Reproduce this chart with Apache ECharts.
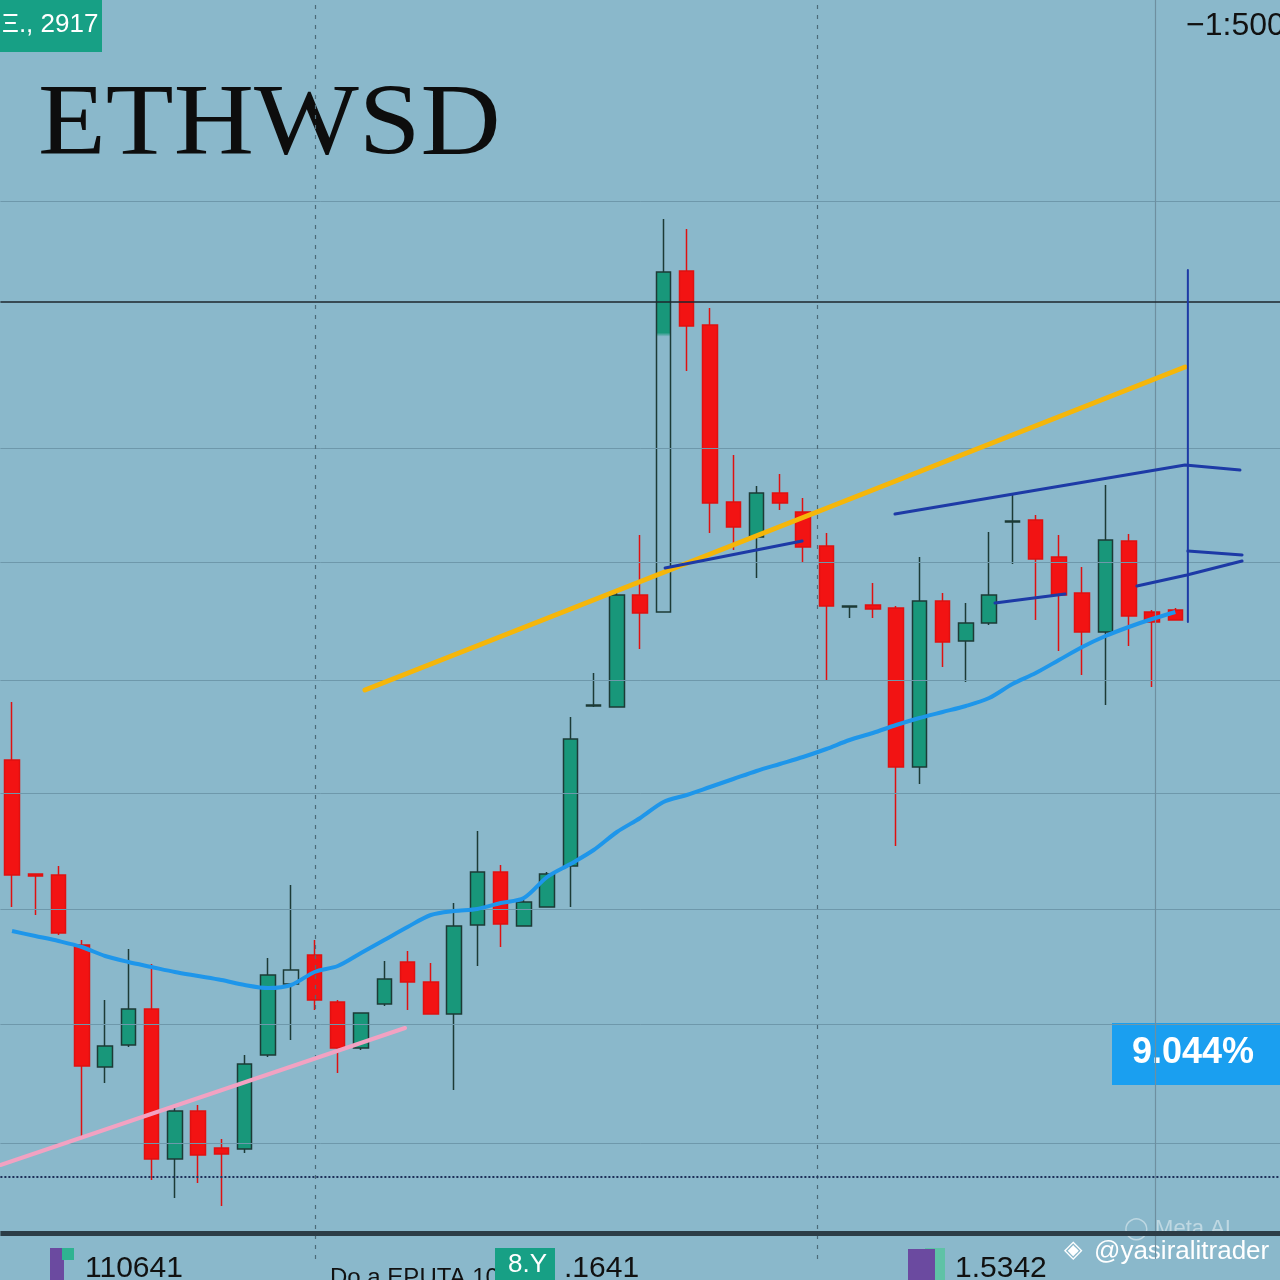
<!DOCTYPE html>
<html><head><meta charset="utf-8">
<script src="https://cdn.jsdelivr.net/npm/echarts@6/dist/echarts.min.js"></script>
<style>html,body{margin:0;padding:0;background:#8ab8cb}#c{width:1280px;height:1280px}</style>
</head><body><div id="c"></div><script>
// ---- data (price units) ----
const categories = Array.from({length: 55}, (_, i) => 'D' + (i + 1));
// [open, close, low, high]
const ohlc = [
  [499,384,352,557],[385,383,344,385],[384,326,324,393],[314,193,123,319],[192,213,176,259],
  [214,250,212,310],[250,100,79,295],[100,148,61,151],[148,104,76,154],[111,105,53,120],
  [110,195,106,204],[204,284,202,301],[275,289,219,374],[304,259,249,319],[257,211,186,259],
  [211,246,209,246],[255,280,253,298],[297,277,249,308],[277,245,245,296],[245,333,169,356],
  [334,387,293,428],[387,335,312,394],[333,357,333,359],[352,385,352,387],[393,520,352,542],
  [553,554,552,586],[552,664,552,669],[664,646,610,724],[647,987,647,1040],[988,933,888,1030],
  [934,756,726,951],[757,732,709,804],[722,766,681,773],[766,756,749,785],[747,712,696,761],
  [713,653,579,726],[652,653,641,653],[654,650,641,676],[651,492,413,653],[492,658,475,702],
  [658,617,592,666],[618,636,577,656],[636,664,634,727],[737,738,695,766],[739,700,639,744],
  [702,664,608,724],[666,627,584,692],[627,719,554,774],[718,643,613,725],[647,637,572,649],
  [649,639,639,651]
];
const maLine = [328,323,318,312,303,297,292,287,283,279,274,271,274,287,293,306,319,332,344,348,
  350,356,361,382,395,409,427,441,457,464,472,480,488,495,502,510,519,526,534,541,547,553,561,575,
  586,599,612,623,632,640,647];
// trend lines in [candle index, price]
const yellowLine = [[15.17,569],[50.42,892]];
const pinkLine = [[-0.5,94],[16.89,231]];
const navyLine1 = [[28.07,691],[33.96,718]];
const navyUpper = [[37.95,745],[50.42,794],[52.78,789]];
const navyLower1 = [[42.25,656],[45.26,665]];
const navyLower2 = [[48.35,673],[50.5,684],[52.87,698]];
const navyShort = [[50.54,708],[52.87,704]];
const navyVertical = [[50.54,989],[50.54,637]];
const verticalGuides = [13.02, 34.60];
const verticalSolid = [49.13];
const gridLevels = [1058, 811, 697, 579, 466, 350, 235, 116];
const resistanceLevel = 957;
const supportLevel = 82;
const baseLevel = 26;
const hollowIdx = [12];
const splitIdx = 28;

const BG = '#8ab8cb';
const UP = '#18977a', UPB = '#1c3a36', DN = '#f21313', DNB = '#e01010';

const candleData = ohlc.map((d, i) => {
  if (i === splitIdx) return {value: d, itemStyle: {color: {type:'linear', x:0, y:0, x2:0, y2:1,
    colorStops:[{offset:0,color:UP},{offset:0.29,color:UP},{offset:0.3,color:BG},{offset:1,color:BG}]}}};
  if (hollowIdx.includes(i)) return {value: d, itemStyle: {color: BG}};
  return d;
});

function seg(data, color, width, z) {
  return {type:'line', xAxisIndex:1, yAxisIndex:0, data, symbol:'none', silent:true, z: z || 5,
    lineStyle:{color, width, cap:'round'}};
}

const chart = echarts.init(document.getElementById('c'), null, {renderer:'canvas'});
chart.setOption({
  animation: false,
  backgroundColor: BG,
  grid: {left: 0.4, right: 0, top: 0, bottom: 21},
  xAxis: [
    {type:'category', data: categories, boundaryGap:true, show:false},
    {type:'value', min:-0.5, max:54.5, show:false}
  ],
  yAxis: {type:'value', min:0, max:1259, show:false, splitLine:{show:false}},
  series: [
    {type:'line', xAxisIndex:1, data:[], silent:true, z:1,
      markLine:{symbol:'none', silent:true, label:{show:false}, animation:false,
        data:[
          ...gridLevels.map(y => ({yAxis:y, lineStyle:{color:'#6e98ab', width:1, type:'solid'}})),
          ...verticalGuides.map(x => ({xAxis:x, lineStyle:{color:'#4c6a78', width:1.2, type:[4,6]}})),
          ...verticalSolid.map(x => ({xAxis:x, lineStyle:{color:'#6e8fa0', width:1.2, type:'solid'}})),
          {yAxis: resistanceLevel, lineStyle:{color:'#1c262c', width:1.6, type:'solid'}},
          {yAxis: supportLevel, lineStyle:{color:'#1d2f58', width:2, type:[2,2]}},
          {yAxis: baseLevel, lineStyle:{color:'#2c3d47', width:5, type:'solid'}}
        ]}},
    {type:'candlestick', data: candleData, barWidth: 15, z: 3,
      itemStyle:{color: UP, color0: DN, borderColor: UPB, borderColor0: DNB, borderWidth: 1.5}},
    {type:'line', data: maLine, symbol:'none', smooth:0.3, z: 6,
      lineStyle:{color:'#1e96ea', width:4}},
    seg(yellowLine, '#f5b60a', 5),
    seg(pinkLine, '#f2a2c2', 4),
    seg(navyLine1, '#1d3aa6', 3),
    seg(navyUpper, '#1d3aa6', 3),
    seg(navyLower1, '#1d3aa6', 3),
    seg(navyLower2, '#1d3aa6', 3),
    seg(navyShort, '#1d3aa6', 3),
    seg(navyVertical, '#1d3aa6', 2)
  ],
  graphic: [
    {type:'text', x:38, y:77, scaleX:1.1, style:{text:'ETHWSD', fill:'#0d0d0d', font:'normal 101px "Liberation Serif"'}},
    {type:'rect', left:0, top:0, shape:{width:102, height:52}, style:{fill:'#17a085'}},
    {type:'text', left:2, top:12, style:{text:'Ξ., 2917', fill:'#ffffff', font:'26px "Liberation Sans"'}},
    {type:'text', left:1186, top:10, style:{text:'−1:500', fill:'#111', font:'32px "Liberation Sans"'}},
    {type:'rect', left:1112, top:1023, shape:{width:168, height:62}, style:{fill:'#1a9ff0'}},
    {type:'text', left:1132, top:1035, style:{text:'9.044%', fill:'#ffffff', font:'bold 36px "Liberation Sans Narrow", "Liberation Sans"'}},
    {type:'rect', left:50, top:1248, shape:{width:14, height:32}, style:{fill:'#6b4aa0'}},
    {type:'rect', left:62, top:1248, shape:{width:12, height:12}, style:{fill:'#2fb391'}},
    {type:'text', left:85, top:1254, style:{text:'110641', fill:'#111', font:'30px "Liberation Sans Narrow", "Liberation Sans"'}},
    {type:'text', left:330, top:1266, style:{text:'Do a EPUTA 10 P', fill:'#111', font:'24px "Liberation Sans"'}},
    {type:'rect', left:495, top:1248, shape:{width:60, height:32}, style:{fill:'#17a085'}},
    {type:'text', left:508, top:1252, style:{text:'8.Y', fill:'#ffffff', font:'26px "Liberation Sans"'}},
    {type:'text', left:564, top:1254, style:{text:'.1641', fill:'#111', font:'30px "Liberation Sans Narrow", "Liberation Sans"'}},
    {type:'rect', left:925, top:1248, shape:{width:20, height:32}, style:{fill:'#5fc2a6'}},
    {type:'rect', left:908, top:1249, shape:{width:27, height:31}, style:{fill:'#6b4aa0'}},
    {type:'text', left:955, top:1254, style:{text:'1.5342', fill:'#111', font:'30px "Liberation Sans Narrow", "Liberation Sans"'}},
    {type:'text', left:1124, top:1218, style:{text:'◯ Meta AI', fill:'rgba(255,255,255,0.45)', font:'22px "Liberation Sans"'}},
    {type:'text', left:1064, top:1239, style:{text:'◈', fill:'#ffffff', font:'24px "DejaVu Sans"'}},
    {type:'text', left:1094, top:1239, style:{text:'@yasiralitrader', fill:'#ffffff', font:'26px "Liberation Sans"'}}
  ]
});
</script></body></html>
